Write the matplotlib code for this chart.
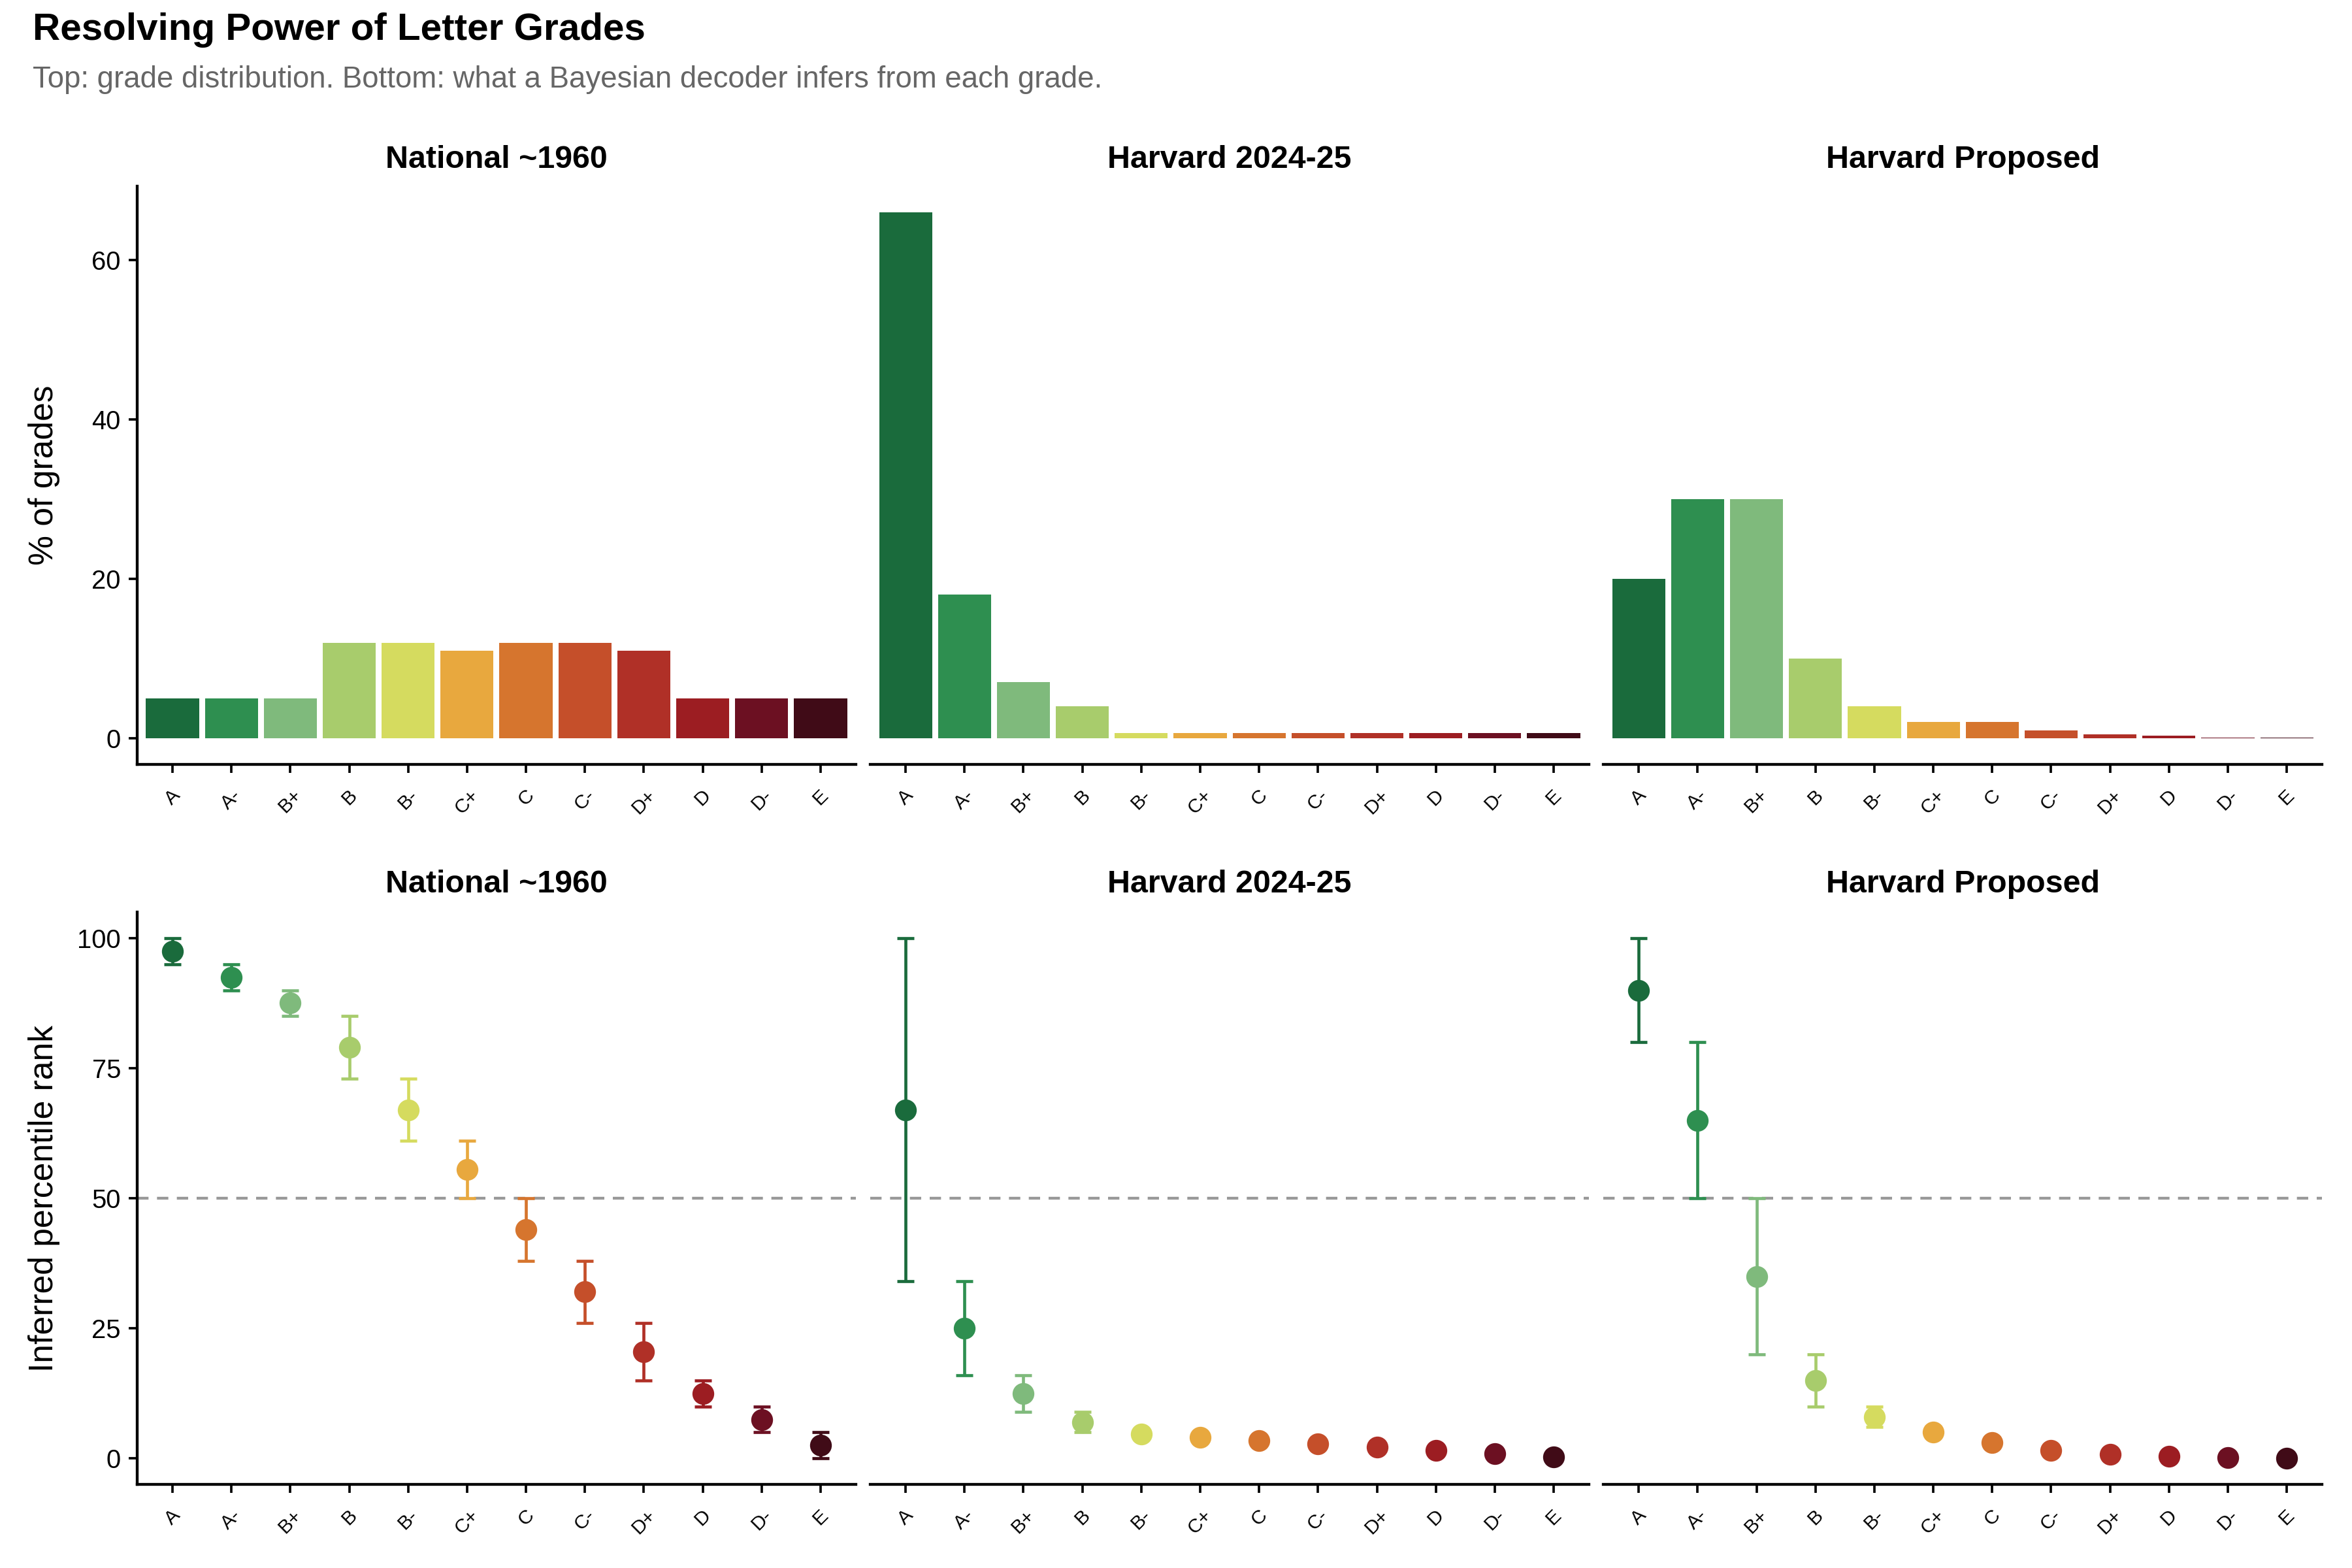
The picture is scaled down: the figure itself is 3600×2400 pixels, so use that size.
import matplotlib
matplotlib.use("Agg")
import matplotlib.pyplot as plt

plt.rcParams['font.family'] = ['Liberation Sans', 'DejaVu Sans']

grades = ["A", "A-", "B+", "B", "B-", "C+", "C", "C-", "D+", "D", "D-", "E"]
colors = ["#1a6b3c", "#2e8f50", "#7fba7c", "#a8cc6c", "#d5db5f", "#e8a83e",
          "#d6752e", "#c54f2a", "#b03027", "#9c1d22", "#6c1022", "#400b17"]
panel_titles = ["National ~1960", "Harvard 2024-25", "Harvard Proposed"]

# % of grades
nat_pct = [5, 5, 5, 12, 12, 11, 12, 12, 11, 5, 5, 5]
harv_pct = [66, 18, 7, 4, 0.625, 0.625, 0.625, 0.625, 0.625, 0.625, 0.625, 0.625]
prop_pct = [20, 30, 30, 10, 4, 2, 2, 1, 0.5, 0.3, 0.1, 0.1]

# inferred percentile rank: point, low, high
nat_mid = [97.5, 92.5, 87.5, 79, 67, 55.5, 44, 32, 20.5, 12.5, 7.5, 2.5]
nat_lo = [95, 90, 85, 73, 61, 50, 38, 26, 15, 10, 5, 0]
nat_hi = [100, 95, 90, 85, 73, 61, 50, 38, 26, 15, 10, 5]

harv_mid = [67, 25, 12.5, 7, 4.7, 4.1, 3.4, 2.8, 2.2, 1.6, 0.9, 0.3]
harv_lo = [34, 16, 9, 5, 4.4, 3.8, 3.1, 2.5, 1.9, 1.2, 0.6, 0]
harv_hi = [100, 34, 16, 9, 5, 4.4, 3.8, 3.1, 2.5, 1.9, 1.2, 0.6]

prop_mid = [90, 65, 35, 15, 8, 5, 3, 1.5, 0.75, 0.35, 0.15, 0.05]
prop_lo = [80, 50, 20, 10, 6, 4, 2, 1, 0.5, 0.2, 0.1, 0]
prop_hi = [100, 80, 50, 20, 10, 6, 4, 2, 1, 0.5, 0.2, 0.1]

pct_sets = [nat_pct, harv_pct, prop_pct]
rank_sets = [(nat_mid, nat_lo, nat_hi), (harv_mid, harv_lo, harv_hi),
             (prop_mid, prop_lo, prop_hi)]

fig = plt.figure(figsize=(15, 10), dpi=240)

left0 = 0.0583
pw = 0.3056
gap = 0.0061
x = list(range(len(grades)))


def style_axis(ax, first):
    for s in ["top", "right"]:
        ax.spines[s].set_visible(False)
    ax.spines["bottom"].set_linewidth(1.3)
    ax.spines["left"].set_linewidth(1.3)
    if not first:
        ax.spines["left"].set_visible(False)
        ax.tick_params(axis="y", left=False, labelleft=False)
    ax.set_xlim(-0.6, len(grades) - 0.4)
    ax.set_xticks(x)
    ax.set_xticklabels(grades, rotation=45, ha="center", va="top", fontsize=9)
    ax.tick_params(axis="x", length=4, width=1.1, pad=6)
    ax.tick_params(axis="y", length=4, width=1.1, labelsize=12)


top_axes = []
for i in range(3):
    ax = fig.add_axes([left0 + i * (pw + gap), 0.5125, pw, 0.3687])
    ax.bar(x, pct_sets[i], width=0.9, color=colors)
    ax.set_ylim(-3.3, 69.3)
    ax.set_yticks([0, 20, 40, 60])
    style_axis(ax, i == 0)
    ax.set_title(panel_titles[i], fontsize=14.5, fontweight="bold", pad=8.5)
    top_axes.append(ax)
top_axes[0].set_ylabel("% of grades", fontsize=15.5)
top_axes[0].yaxis.set_label_coords(-0.107, 0.5)

bot_axes = []
for i in range(3):
    ax = fig.add_axes([left0 + i * (pw + gap), 0.0533, pw, 0.365])
    mid, lo, hi = rank_sets[i]
    ax.axhline(50, color="#999999", linestyle=(0, (4, 3)), linewidth=1.3, zorder=1)
    for j in range(len(grades)):
        ax.errorbar(x[j], mid[j], yerr=[[mid[j] - lo[j]], [hi[j] - mid[j]]],
                    fmt="o", color=colors[j], markersize=9, elinewidth=1.4,
                    capsize=4, capthick=1.4, zorder=3)
    ax.set_ylim(-5, 105)
    ax.set_yticks([0, 25, 50, 75, 100])
    style_axis(ax, i == 0)
    ax.set_title(panel_titles[i], fontsize=14.5, fontweight="bold", pad=9)
    bot_axes.append(ax)
bot_axes[0].set_ylabel("Inferred percentile rank", fontsize=15.5)
bot_axes[0].yaxis.set_label_coords(-0.107, 0.5)

fig.text(0.014, 0.992, "Resolving Power of Letter Grades", fontsize=17.5,
         fontweight="bold", va="top", ha="left")
fig.text(0.014, 0.949, "Top: grade distribution. Bottom: what a Bayesian decoder infers from each grade.",
         fontsize=13.7, color="#666666", va="center", ha="left")

fig.savefig("out.png", dpi=240)
